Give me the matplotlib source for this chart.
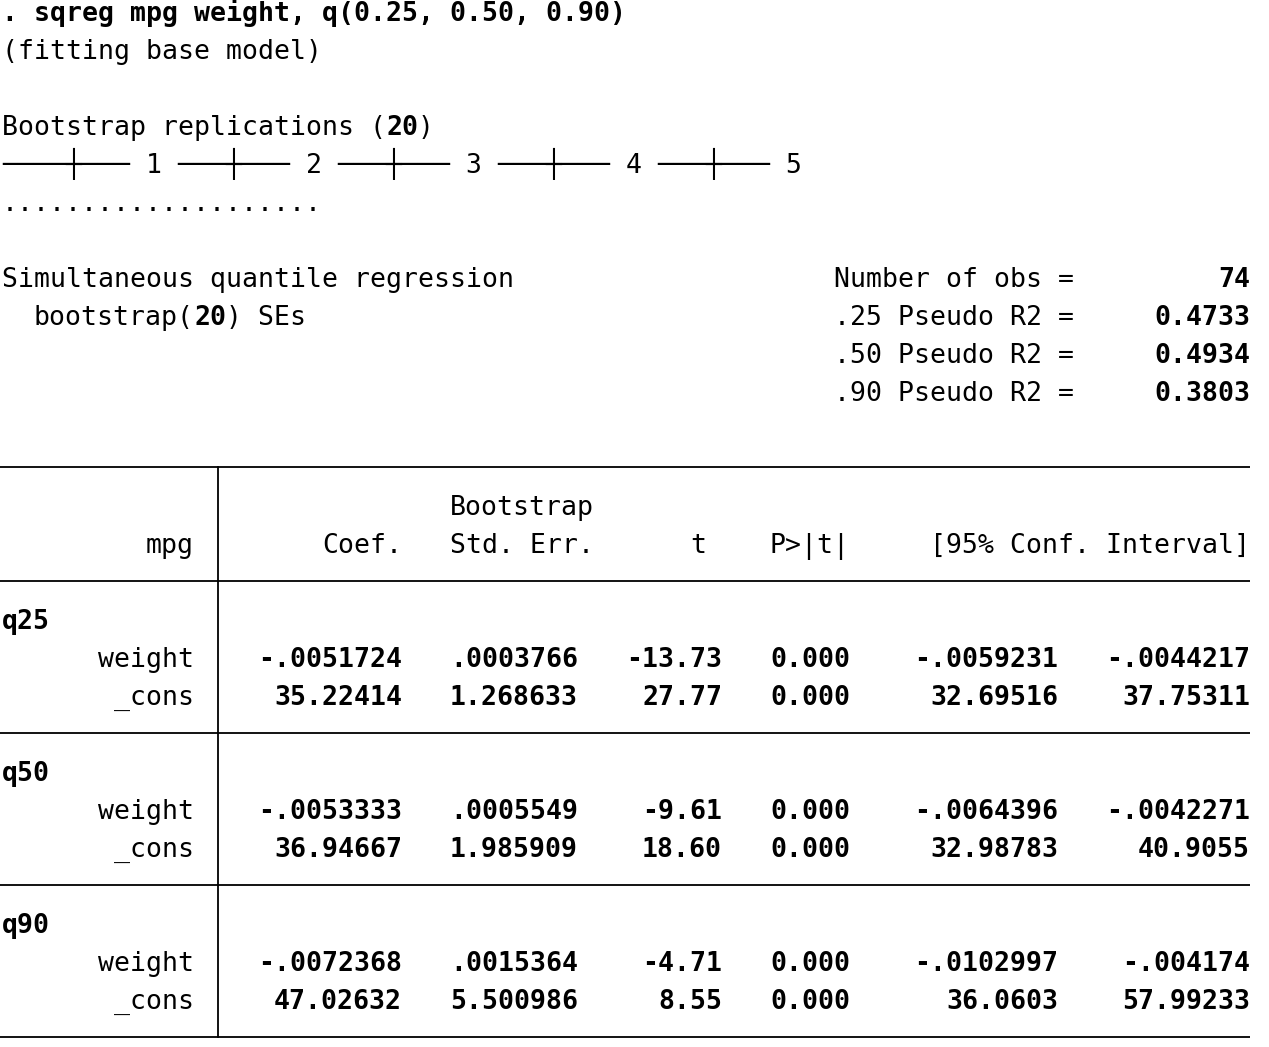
"""
Stata sqreg output (simultaneous quantile regression), drawn as text.
"""

import matplotlib.pyplot as plt

# table content
QUANTILES = ["q25", "q50", "q90"]
VARS = ["weight", "_cons"]
COEF = [["-.0051724", "35.22414"], ["-.0053333", "36.94667"], ["-.0072368", "47.02632"]]
SE = [[".0003766", "1.268633"], [".0005549", "1.985909"], [".0015364", "5.500986"]]
TVAL = [["-13.73", "27.77"], ["-9.61", "18.60"], ["-4.71", "8.55"]]
PVAL = [["0.000", "0.000"], ["0.000", "0.000"], ["0.000", "0.000"]]
CI_LO = [["-.0059231", "32.69516"], ["-.0064396", "32.98783"], ["-.0102997", "36.0603"]]
CI_HI = [["-.0044217", "37.75311"], ["-.0042271", "40.9055"], ["-.004174", "57.99233"]]

N_OBS = "74"
R2_LABELS = [".25 Pseudo R2 =", ".50 Pseudo R2 =", ".90 Pseudo R2 ="]
R2_VALUES = ["0.4733", "0.4934", "0.3803"]
N_REPS = "20"

W, H = 1269, 1047
X0 = 2        # left edge of column 0, px
CW = 16       # character width, px
LH = 38       # line pitch, px
FS = 19.1     # font size, pt
FONT = "DejaVu Sans Mono"

fig = plt.figure(figsize=(W / 100, H / 100), dpi=100)
ax = fig.add_axes([0, 0, 1, 1])
ax.set_xlim(0, W)
ax.set_ylim(H, 0)
ax.axis("off")


def base(line):
    return 21 + LH * line


def put(col, line, s, bold=False):
    ax.text(X0 + col * CW, base(line), s, family=FONT, fontsize=FS,
            fontweight="bold" if bold else "normal", ha="left", va="baseline")


def rput(endcol, line, s, bold=False):
    put(endcol - len(s), line, s, bold)


def rule(line):
    y = 12 + LH * line - 1
    ax.plot([0, X0 + 78 * CW], [y, y], color="black", lw=1.3, solid_capstyle="butt")


# header
put(0, 0, ". sqreg mpg weight, q(0.25, 0.50, 0.90)", bold=True)
put(0, 1, "(fitting base model)")
put(0, 3, "Bootstrap replications (")
put(24, 3, N_REPS, bold=True)
put(26, 3, ")")
put(0, 4, "────┼─── 1 ───┼─── 2 ───┼─── 3 ───┼─── 4 ───┼─── 5")
put(0, 5, "." * int(N_REPS))

put(0, 7, "Simultaneous quantile regression")
put(2, 8, "bootstrap(")
put(12, 8, N_REPS, bold=True)
put(14, 8, ") SEs")
put(52, 7, "Number of obs =")
rput(78, 7, N_OBS, bold=True)
for i, (lab, val) in enumerate(zip(R2_LABELS, R2_VALUES)):
    put(52, 8 + i, lab)
    rput(78, 8 + i, val, bold=True)

# table
rule(12)
put(28, 13, "Bootstrap")
rput(12, 14, "mpg")
rput(25, 14, "Coef.")
put(28, 14, "Std. Err.")
rput(44, 14, "t")
rput(53, 14, "P>|t|")
rput(78, 14, "[95% Conf. Interval]")
rule(15)

line = 16
for q in range(len(QUANTILES)):
    put(0, line, QUANTILES[q], bold=True)
    for v in range(len(VARS)):
        ln = line + 1 + v
        rput(12, ln, VARS[v])
        rput(25, ln, COEF[q][v], bold=True)
        rput(36, ln, SE[q][v], bold=True)
        rput(45, ln, TVAL[q][v], bold=True)
        rput(53, ln, PVAL[q][v], bold=True)
        rput(66, ln, CI_LO[q][v], bold=True)
        rput(78, ln, CI_HI[q][v], bold=True)
    line += 4
    rule(line - 1)

ax.plot([218, 218], [12 + LH * 12 - 1, 12 + LH * 27 - 1], color="black", lw=1.3)

fig.savefig("out.png", dpi=100)
